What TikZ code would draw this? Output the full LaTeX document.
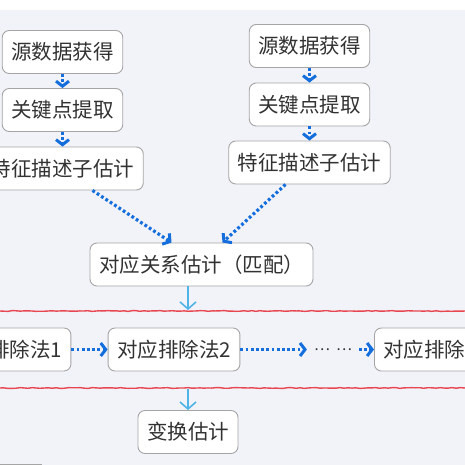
\documentclass[tikz,border=0pt]{standalone}
\usepackage{fontspec}
\newfontfamily\cjk{Noto Sans CJK SC}
\usetikzlibrary{arrows.meta,decorations.pathmorphing}
\definecolor{bg}{RGB}{242,243,249}
\definecolor{flow}{RGB}{20,110,220}
\definecolor{sky}{RGB}{80,180,230}
\definecolor{band}{RGB}{232,70,80}
\definecolor{frame}{RGB}{165,165,165}
\definecolor{ink}{RGB}{50,50,50}

\begin{document}
\begin{tikzpicture}[x=1pt, y=-1pt]
  \tikzset{
    stepbox/.style={draw=frame, fill=white, line width=0.9pt, rounded corners=7pt,
      minimum height=43pt, inner xsep=9pt, inner ysep=0pt, text=ink,
      font={\fontsize{20.5pt}{24pt}\cjk}},
    flow/.style={color = flow!100, line width=3.2pt, dash pattern=on 2.8pt off 2.4pt,
      -{Straight Barb[length=5pt,width=13pt,line width=3pt]}},
    sky/.style={color = sky!100, line width=1.4pt,
      -{Straight Barb[length=7pt,width=16pt,line width=1.6pt]}},
    band/.style={color = band!100, line width=1.4pt, decorate,
      decoration={random steps, segment length=4pt, amplitude=0.4pt}},
  }

    \useasboundingbox (0,0) rectangle (465,465);
    \clip (0,0) rectangle (465,465);
    \fill[white] (0,0) rectangle (465,10);
    \fill[color=bg] (0,10) rectangle (465,465);

    % left column
    \node[stepbox] (lsrc)  at (62.5,52)    {源数据获得};
    \node[stepbox] (lkey)  at (62.5,110)   {关键点提取};
    \node[stepbox] (ldesc) at (62.5,168.5) {特征描述子估计};

    % right column
    \node[stepbox] (rsrc)  at (309.5,46)    {源数据获得};
    \node[stepbox] (rkey)  at (309.5,104.5) {关键点提取};
    \node[stepbox] (rdesc) at (309.5,162.5) {特征描述子估计};

    % matching
    \node[stepbox] (match) at (201.5,264.5) {对应关系估计（匹配）};

    \draw[flow] (lsrc) -- (lkey);
    \draw[flow] (lkey) -- (ldesc);
    \draw[flow] (rsrc) -- (rkey);
    \draw[flow] (rkey) -- (rdesc);
    \draw[flow] ([xshift=30pt]ldesc.south) -- ([xshift=-30pt]match.north);
    \draw[flow] ([xshift=-24pt]rdesc.south) -- ([xshift=21pt]match.north);

    % red bands
    \draw[band] (0,311) -- (465,311);
    \draw[band] (0,388) -- (465,388);
    \coordinate (bandtop) at (188,310);
    \coordinate (bandlow) at (188,389);

    % rejection chain
    \node[stepbox] (rej1) at (5,349.5)   {对应排除法1};
    \node[stepbox] (rej2) at (174,349.5) {对应排除法2};
    \node[text=ink, inner xsep=7pt, font={\fontsize{15pt}{20pt}\cjk}] (dots) at (333,349.5) {…\hspace{6pt}…};
    \node[stepbox, anchor=west] (rejn) at (374,349.5) {对应排除法};

    \draw[flow] (rej1) -- (rej2);
    \draw[flow] (rej2) -- (dots);
    \draw[flow] (dots) -- (rejn);

    % transform
    \node[stepbox] (trans) at (188,432) {变换估计};

    \draw[sky] ([xshift=-13.5pt]match.south) -- (bandtop);
    \draw[sky] (bandlow) -- (trans);

    \draw[color=frame, line width=1pt] (0,464) -- (42,464);
\end{tikzpicture}
\end{document}
